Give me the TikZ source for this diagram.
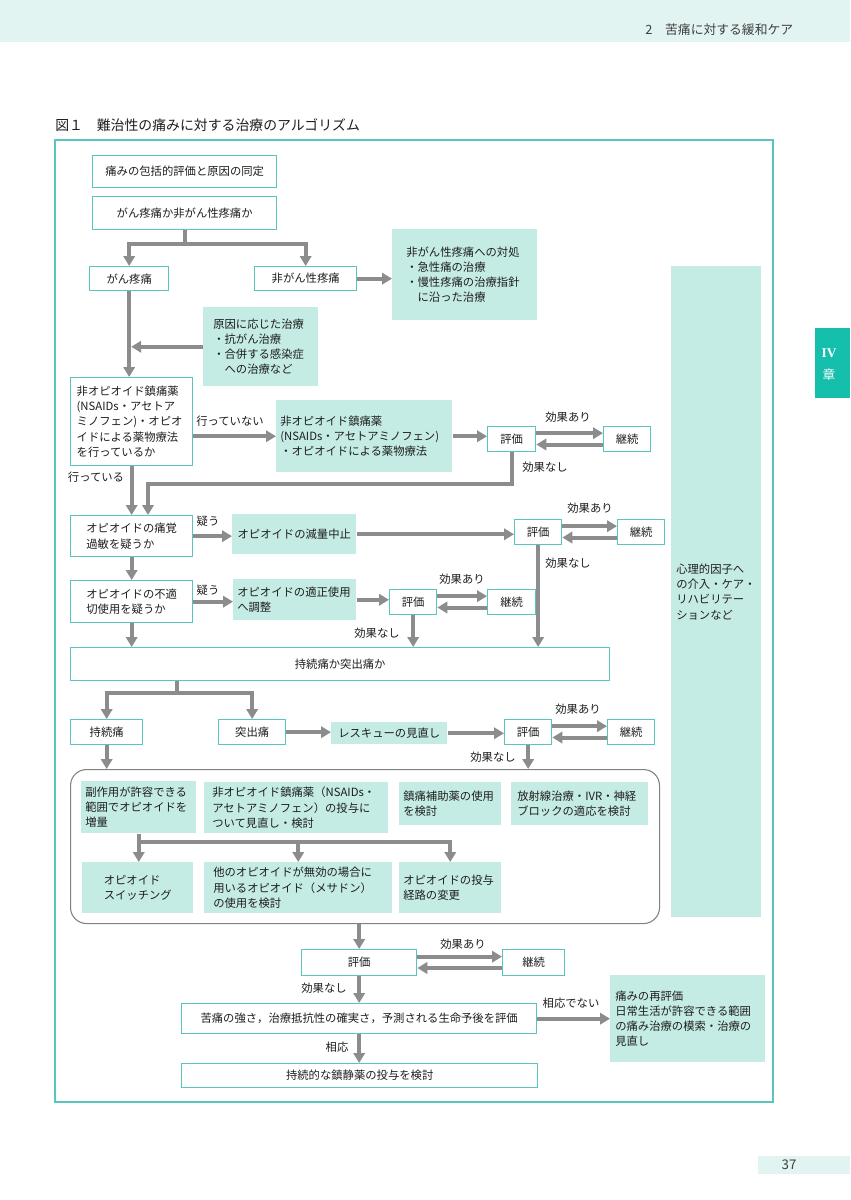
\documentclass[tikz,border=0pt]{standalone}
\usepackage{fontspec}
\setmainfont{Noto Sans CJK JP}
\newfontfamily\serifbf{Liberation Serif}
\usetikzlibrary{arrows.meta,calc}
\definecolor{tealb}{RGB}{88,198,190}
\definecolor{grn}{RGB}{197,236,228}
\definecolor{arrg}{RGB}{140,140,140}
\definecolor{hdr}{RGB}{226,244,242}
\definecolor{tabc}{RGB}{22,190,172}
\definecolor{txt}{RGB}{30,30,30}
\definecolor{rgray}{RGB}{130,130,130}
\newcommand\fs{\fontsize{8.5pt}{11.4pt}\selectfont}
\begin{document}
\begin{tikzpicture}[x=0.75pt,y=-0.75pt,
  sz/.style 2 args={minimum width=#1*0.75pt, minimum height=#2*0.75pt},
  wb/.style={draw=tealb, line width=1pt, fill=white, inner sep=0pt, anchor=north west, font=\fs, text=txt},
  gb/.style={fill=grn, inner sep=0pt, anchor=north west, font=\fs, text=txt},
  rb/.style={draw=rgray, line width=0.8pt, rounded corners=12pt, inner sep=0pt, anchor=north west},
  lbl/.style={font=\fs, inner sep=0pt, text=txt},
  ln/.style={draw=arrg, line width=3pt},
  arr/.style={draw=arrg, line width=3pt, -{Triangle[length=7.5pt,width=8.5pt]}}
]
\useasboundingbox (0,0) rectangle (850,1200);
\fill[white] (0,0) rectangle (850,1200);
% page decorations
\fill[hdr] (0,0) rectangle (850,42);
\node[anchor=west, font=\fontsize{9.6pt}{12pt}\selectfont, text=black!75, inner sep=0pt] (hd) at (645,30) {2　苦痛に対する緩和ケア};
\fill[tabc] (815,328) rectangle (850,398);
\node[font=\serifbf\bfseries\fontsize{10pt}{12pt}\selectfont, text=white, inner sep=0pt] (tab1) at (829,353) {IV};
\node[font=\fontsize{9.5pt}{11pt}\selectfont, text=white, inner sep=0pt] (tab2) at (829,375) {章};
\fill[hdr] (758,1156) rectangle (850,1174);
\node[font=\fontsize{10pt}{12pt}\selectfont, text=black!75, inner sep=0pt] (pg) at (789,1165) {37};
\node[anchor=west, font=\fontsize{10.4pt}{12pt}\selectfont, text=txt, inner sep=0pt] (title) at (55,125) {図１　難治性の痛みに対する治療のアルゴリズム};
\draw[tealb, line width=1pt] (55,140) rectangle (773,1102);

% nodes
\node[wb,sz={184}{32}] (b1) at (92,155) {痛みの包括的評価と原因の同定};
\node[wb,sz={184}{33}] (b2) at (92,196) {がん疼痛か非がん性疼痛か};
\node[wb,sz={79}{24}] (b3) at (89,266) {がん疼痛};
\node[wb,sz={102}{24}] (b4) at (254,266) {非がん性疼痛};
\node[gb,sz={145}{91},inner xsep=10.5pt,text width=87.75pt,align=left] (g1) at (392,229) {非がん性疼痛への対処\\・急性痛の治療\\・慢性疼痛の治療指針\\　に沿った治療};
\node[gb,sz={115}{79},inner xsep=7.5pt,text width=71.25pt,align=left] (g2) at (203,307) {原因に応じた治療\\・抗がん治療\\・合併する感染症\\　への治療など};
\node[gb,sz={90}{651},inner xsep=3.75pt,text width=60pt,align=left] (grt) at (671,266) {心理的因子へ\\の介入・ケア・\\リハビリテー\\ションなど};
\node[wb,sz={122}{88},inner xsep=4.5pt,text width=82.5pt,align=left] (b5) at (70,377) {非オピオイド鎮痛薬\\(NSAIDs・アセトア\\ミノフェン)・オピオ\\イドによる薬物療法\\を行っているか};
\node[gb,sz={176}{72},inner xsep=3pt,text width=126pt,align=left] (g3) at (276,400) {非オピオイド鎮痛薬\\(NSAIDs・アセトアミノフェン)\\・オピオイドによる薬物療法};
\node[wb,sz={48}{25}] (e1) at (487,426) {評価};
\node[wb,sz={47}{25}] (c1) at (603,426) {継続};
\node[wb,sz={122}{41},align=left] (b6) at (70,515) {オピオイドの痛覚\\過敏を疑うか};
\node[gb,sz={124}{40}] (g4) at (232,514) {オピオイドの減量中止};
\node[wb,sz={47}{25}] (e2) at (514,519) {評価};
\node[wb,sz={47}{25}] (c2) at (617,519) {継続};
\node[wb,sz={122}{42},align=left] (b7) at (70,580) {オピオイドの不適\\切使用を疑うか};
\node[gb,sz={123}{41},inner xsep=3pt,text width=86.25pt,align=left] (g5) at (233,579) {オピオイドの適正使用\\へ調整};
\node[wb,sz={47}{25}] (e3) at (389,589) {評価};
\node[wb,sz={48}{25}] (c3) at (487,589) {継続};
\node[wb,sz={539}{33}] (b8) at (70,647) {持続痛か突出痛か};
\node[wb,sz={72}{25}] (b9) at (70,719) {持続痛};
\node[wb,sz={67}{25}] (b10) at (218,719) {突出痛};
\node[gb,sz={116}{22}] (g6) at (331,722) {レスキューの見直し};
\node[wb,sz={47}{25}] (e4) at (504,719) {評価};
\node[wb,sz={47}{25}] (c4) at (607,719) {継続};
\node[rb,sz={589}{154}] (r) at (70,769) {};
\node[gb,sz={113}{52},inner xsep=3pt,text width=80.25pt,align=left] (g7) at (81,781) {副作用が許容できる\\範囲でオピオイドを\\増量};
\node[gb,sz={184}{51},inner xsep=6pt,text width=126pt,align=left] (g8) at (204,782) {非オピオイド鎮痛薬（NSAIDs・\\アセトアミノフェン）の投与に\\ついて見直し・検討};
\node[gb,sz={102}{43},inner xsep=3pt,text width=70.5pt,align=left] (g9) at (399,782) {鎮痛補助薬の使用\\を検討};
\node[gb,sz={137}{43},inner xsep=4.5pt,text width=93.75pt,align=left] (g10) at (511,782) {放射線治療・IVR・神経\\ブロックの適応を検討};
\node[gb,sz={111}{51},align=left] (g11) at (82,862) {オピオイド\\スイッチング};
\node[gb,sz={184}{51},inner xsep=6.75pt,text width=127.5pt,align=left] (g12) at (204,862) {他のオピオイドが無効の場合に\\用いるオピオイド（メサドン）\\の使用を検討};
\node[gb,sz={102}{51},inner xsep=3pt,text width=70.5pt,align=left] (g13) at (399,862) {オピオイドの投与\\経路の変更};
\node[wb,sz={115}{26}] (e5) at (301,949) {評価};
\node[wb,sz={62}{26}] (c5) at (502,949) {継続};
\node[wb,sz={355}{30}] (b11) at (181,1003) {苦痛の強さ，治療抵抗性の確実さ，予測される生命予後を評価};
\node[gb,sz={152}{87},inner xsep=3.75pt,text width=108.75pt,align=left] (g14) at (610,975) {痛みの再評価\\日常生活が許容できる範囲\\の痛み治療の模索・治療の\\見直し};
\node[wb,sz={356}{24}] (b12) at (181,1063) {持続的な鎮静薬の投与を検討};

% labels
\node[lbl] (la1) at (230,421) {行っていない};
\node[lbl] (la2) at (96,477) {行っている};
\node[lbl] (la3) at (208,521) {疑う};
\node[lbl] (la4) at (208,590) {疑う};
\node[lbl] (ya1) at (568,417) {効果あり};
\node[lbl] (ya2) at (590,508) {効果あり};
\node[lbl] (ya3) at (462,579) {効果あり};
\node[lbl] (ya4) at (578,709) {効果あり};
\node[lbl] (ya5) at (463,944) {効果あり};
\node[lbl] (na1) at (545,467) {効果なし};
\node[lbl] (na2) at (568,563) {効果なし};
\node[lbl] (na3) at (377,633) {効果なし};
\node[lbl] (na4) at (493,757) {効果なし};
\node[lbl] (na5) at (324,988) {効果なし};
\node[lbl] (lc1) at (571,1003) {相応でない};
\node[lbl] (lc2) at (337,1047) {相応};

% coordinates
\coordinate (k1) at (148,484);
\coordinate (j2) at (177,693);
\coordinate (j3) at (450,842);

% connectors
\draw[ln] (b2.south) -- ++(0,14) coordinate (j1);
\draw[arr] (j1) -| (b3.north);
\draw[arr] (j1) -| (b4.north);
\draw[arr] (b4.east) -- (b4.east -| g1.west);
\draw[arr] (b3.south) -- (b3.south |- b5.north);
\draw[arr, shorten >=1.5pt] (g2.west) -- (g2.west -| b3.south);
\draw[arr] (b5.east |- g3.west) -- (g3.west);
\draw[arr] (g3.east) -- (g3.east -| e1.west);
\draw[arr] ([yshift=4.5pt]e1.east) -- ([yshift=4.5pt]c1.west);
\draw[arr] ([yshift=-4pt]c1.west) -- ([yshift=-4pt]e1.east);
\draw[arr] (e1.south) |- (k1) -- (k1 |- b6.north);
\draw[arr] (b5.south) -- (b5.south |- b6.north);
\draw[arr] (b6.east) -- (b6.east -| g4.west);
\draw[arr] (g4.east) -- (g4.east -| e2.west);
\draw[arr] ([yshift=4.5pt]e2.east) -- ([yshift=4.5pt]c2.west);
\draw[arr] ([yshift=-4pt]c2.west) -- ([yshift=-4pt]e2.east);
\draw[arr] (e2.south) -- (e2.south |- b8.north);
\draw[arr] (b6.south) -- (b7.north);
\draw[arr] (b7.east) -- (b7.east -| g5.west);
\draw[arr] (g5.east) -- (g5.east -| e3.west);
\draw[arr] ([yshift=4.5pt]e3.east) -- ([yshift=4.5pt]c3.west);
\draw[arr] ([yshift=-4pt]c3.west) -- ([yshift=-4pt]e3.east);
\draw[arr] (e3.south) -- (e3.south |- b8.north);
\draw[arr] (b7.south) -- (b7.south |- b8.north);
\draw[ln] (j2 |- b8.south) -- (j2);
\draw[arr] (j2) -| (b9.north);
\draw[arr] (j2) -| (b10.north);
\draw[arr] (b10.east) -- (b10.east -| g6.west);
\draw[arr] (g6.east) -- (g6.east -| e4.west);
\draw[arr] ([yshift=4.5pt]e4.east) -- ([yshift=4.5pt]c4.west);
\draw[arr] ([yshift=-4pt]c4.west) -- ([yshift=-4pt]e4.east);
\draw[arr] (e4.south) -- (e4.south |- r.north);
\draw[arr] (b9.south) -- (b9.south |- r.north);
\draw[arr] (g7.south) -- (g7.south |- g11.north);
\draw[arr] (g7.south |- j3) -| (g13.north);
\draw[arr] (g12.north |- j3) -- (g12.north);
\draw[arr] (e5.north |- r.south) -- (e5.north);
\draw[arr] ([yshift=4.5pt]e5.east) -- ([yshift=4.5pt]c5.west);
\draw[arr] ([yshift=-4pt]c5.west) -- ([yshift=-4pt]e5.east);
\draw[arr] (e5.south) -- (e5.south |- b11.north);
\draw[arr] (b11.east) -- (b11.east -| g14.west);
\draw[arr] (b11.south) -- (b11.south |- b12.north);
\end{tikzpicture}
\end{document}
